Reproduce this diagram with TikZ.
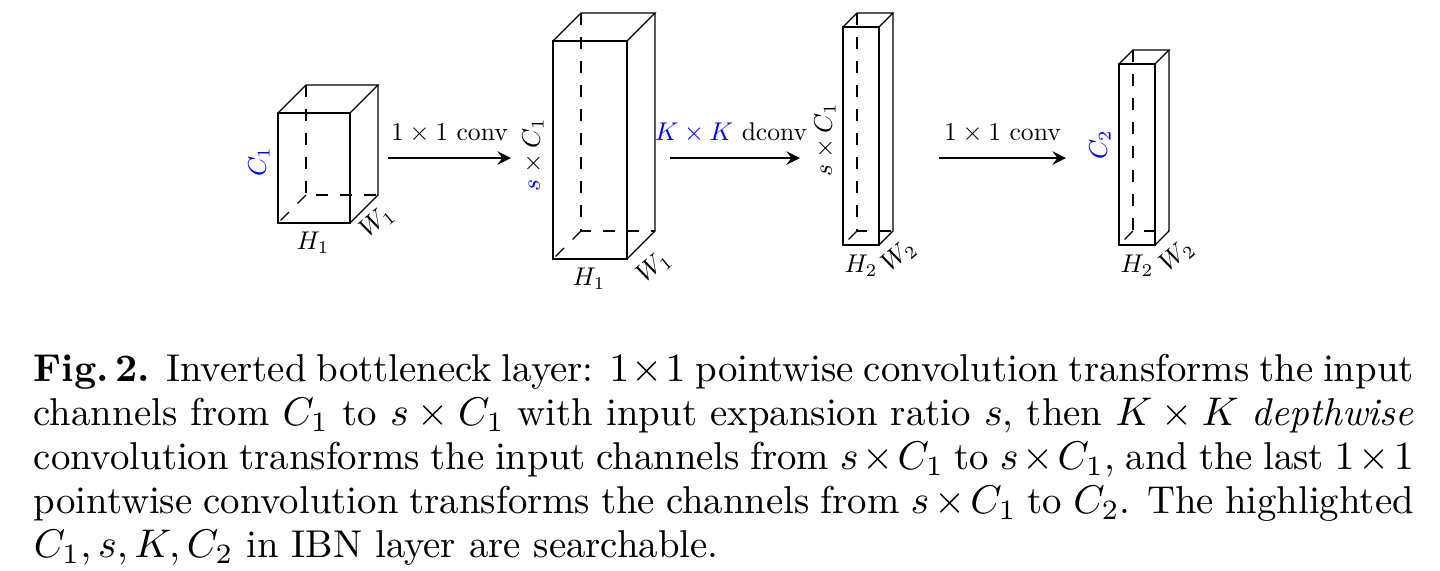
\documentclass[tikz,border=0pt]{standalone}
\usetikzlibrary{calc}
\begin{document}
\newcommand\mycub[5]{%
 \draw[cl] (#1,#2) rectangle (#3,#4);
 \draw[cl] (#1,#2) -- ++(#5,-#5) -- ($(#3,#2)+(#5,-#5)$) -- (#3,#2);
 \draw[cl] ($(#3,#2)+(#5,-#5)$) -- ($(#3,#4)+(#5,-#5)$) -- (#3,#4);
 \draw[cl,dashed] ($(#1,#2)+(#5,-#5)$) -- ($(#1,#4)+(#5,-#5)$) -- ($(#3,#4)+(#5,-#5)$);
 \draw[cl,dashed] ($(#1,#4)+(#5,-#5)$) -- (#1,#4);}
\newcommand\sm[1]{\scalebox{0.64}{#1}}
\begin{tikzpicture}[x=0.25pt,y=-0.25pt,
  cl/.style={line width=0.32pt},
  lab/.style={inner sep=0pt},
  arr/.style={->,line width=0.5pt,>=stealth}]
\useasboundingbox (0,0) rectangle (1440,570);
\mycub{278}{113}{350}{223}{28}
\mycub{553}{41}{627}{259}{28}
\mycub{843}{27}{879}{245}{14}
\mycub{1119}{64}{1155}{245}{14}
% side labels
\node[lab,rotate=90,text=blue] (c1) at (259,162) {\sm{$C_1$}};
\node[lab,rotate=90] (sc1a) at (533,155) {\sm{$\textcolor{blue}{s}\times C_1$}};
\node[lab,rotate=90] (sc1b) at (825,140) {\sm{$s\times C_1$}};
\node[lab,rotate=90,text=blue] (c2) at (1100,145) {\sm{$C_2$}};
% bottom labels
\node[lab] (h1a) at (313,243) {\sm{$H_1$}};
\node[lab,rotate=40] (w1a) at (377,222) {\sm{$W_1$}};
\node[lab] (h1b) at (589,279) {\sm{$H_1$}};
\node[lab,rotate=40] (w1b) at (654,267) {\sm{$W_1$}};
\node[lab] (h2a) at (861,266) {\sm{$H_2$}};
\node[lab,rotate=40] (w2a) at (899,256) {\sm{$W_2$}};
\node[lab] (h2b) at (1137,266) {\sm{$H_2$}};
\node[lab,rotate=40] (w2b) at (1177,256) {\sm{$W_2$}};
% arrows
\coordinate (a1s) at (388,158); \coordinate (a1e) at (511,158);
\coordinate (a2s) at (670,158); \coordinate (a2e) at (800,158);
\coordinate (a3s) at (939,158); \coordinate (a3e) at (1066,158);
\draw[arr] (a1s) -- node[lab,above=3.5pt] (l1) {\sm{$1\times1$ conv}} (a1e);
\draw[arr] (a2s) -- node[lab,above=3.5pt,xshift=-1pt] (l2) {\sm{$\textcolor{blue}{K\times K}$ dconv}} (a2e);
\draw[arr] (a3s) -- node[lab,above=3.5pt] (l3) {\sm{$1\times1$ conv}} (a3e);
% caption
\node[anchor=north west,inner sep=0pt,text width=345pt,align=justify,
  font=\fontsize{9.7}{11}\selectfont] (cap) at (33,353) {\hyphenpenalty=10000
\textbf{Fig.\,2.} Inverted bottleneck layer: $1\times1$ pointwise convolution transforms the input\linebreak
channels from $C_1$ to $s\times C_1$ with input expansion ratio $s$, then $K\times K$ \emph{depthwise}\linebreak
convolution transforms the input channels from $s\times C_1$ to $s\times C_1$, and the last $1\times1$\linebreak
pointwise convolution transforms the channels from $s\times C_1$ to $C_2$. The highlighted\linebreak
$C_1, s, K, C_2$ in IBN layer are searchable.};
\end{tikzpicture}
\end{document}
